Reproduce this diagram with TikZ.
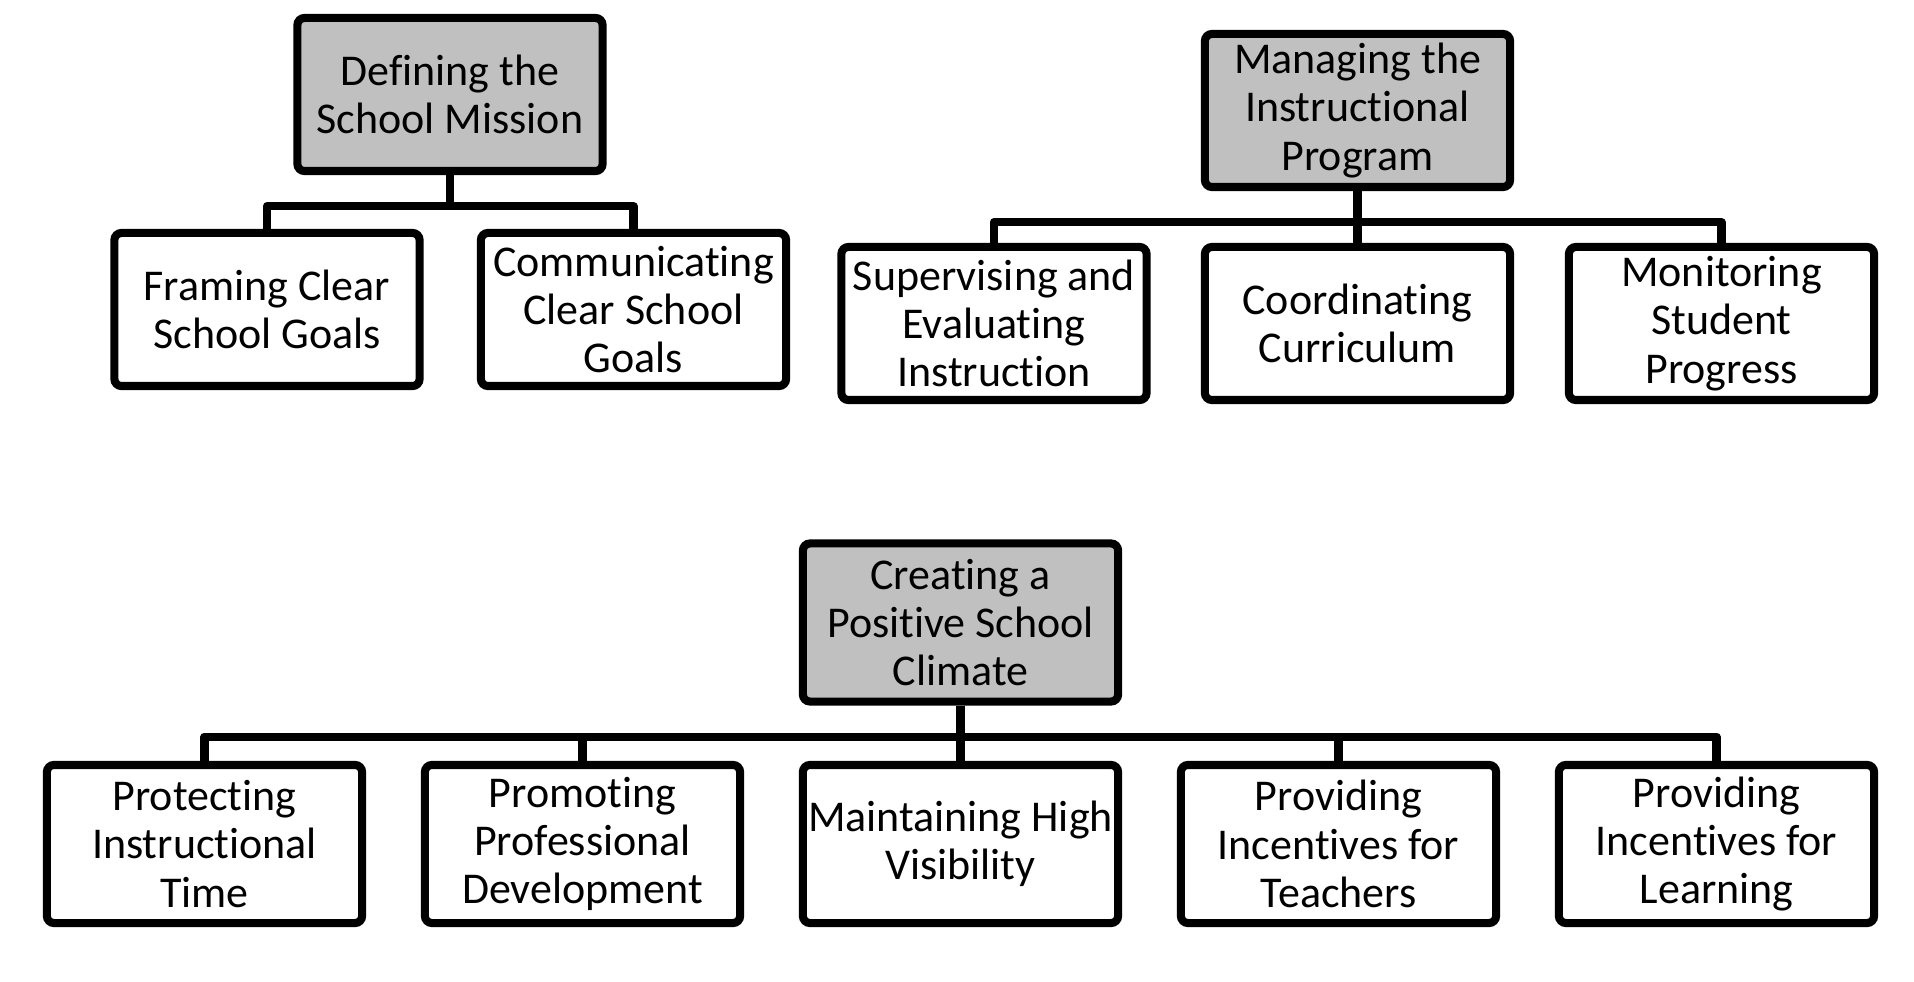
\documentclass[tikz,border=0pt]{standalone}
\usepackage{fontspec}
\setmainfont{Carlito}[Ligatures={NoCommon}]
\usetikzlibrary{calc, positioning}
\definecolor{headgray}{HTML}{C0C0C0}

\begin{document}
\begin{tikzpicture}[
    x=0.01cm, y=-0.01cm,
    line width=2.3pt,
    font=\fontsize{12.5}{13.7}\selectfont,
    box/.style={draw=black, fill=white, align=center, inner sep=0pt,
        rounded corners=2pt, minimum width=3.05cm, minimum height=1.53cm},
    widebox/.style={box, minimum width=3.15cm, minimum height=1.58cm},
    headbox/.style={fill=headgray},
    branch/.style={line join=round}
]
    \useasboundingbox (0,0) rectangle (1914,982);

    % Defining the School Mission
    \node[box, headbox] (mission) at (450,94.5) {Defining the\\School Mission};
    \node[box] (framing) at (267,309.5) {Framing Clear\\School Goals};
    \node[box] (communicating) at (633.5,309.5) {Communicating\\Clear School\\Goals};

    \draw[branch] (mission.south) -- ++(0,31) -| (framing.north);
    \draw[branch] (mission.south) -- ++(0,31) -| (communicating.north);

    % Managing the Instructional Program
    \node[box, headbox] (program) at (1357.5,110.5) {Managing the\\Instructional\\Program};
    \node[box] (supervising) at (994,323.5) {Supervising and\\Evaluating\\Instruction};
    \node[box] (curriculum) at (1357.5,323.5) {Coordinating\\Curriculum};
    \node[box] (monitoring) at (1721.5,323.5) {Monitoring\\Student\\Progress};

    \draw[branch] (program.south) -- ++(0,31) -| (supervising.north);
    \draw[branch] (program.south) -- (curriculum.north);
    \draw[branch] (program.south) -- ++(0,31) -| (monitoring.north);

    % Creating a Positive School Climate
    \node[widebox, headbox] (climate) at (960.5,622.5) {Creating a\\Positive School\\Climate};
    \node[widebox] (protecting) at (204.5,844) {Protecting\\Instructional\\Time};
    \node[widebox] (promoting) at (582.5,844) {Promoting\\Professional\\Development};
    \node[widebox] (visibility) at (960.5,844) {Maintaining High\\Visibility};
    \node[widebox] (teachers) at (1338.5,844) {Providing\\Incentives for\\Teachers};
    \node[widebox] (learning) at (1716.5,844) {Providing\\Incentives for\\Learning};

    \foreach \kid in {protecting, promoting, teachers, learning}
        \draw[branch] (climate.south) -- ++(0,31) -| (\kid.north);
    \draw[branch] (climate.south) -- (visibility.north);

\end{tikzpicture}
\end{document}
